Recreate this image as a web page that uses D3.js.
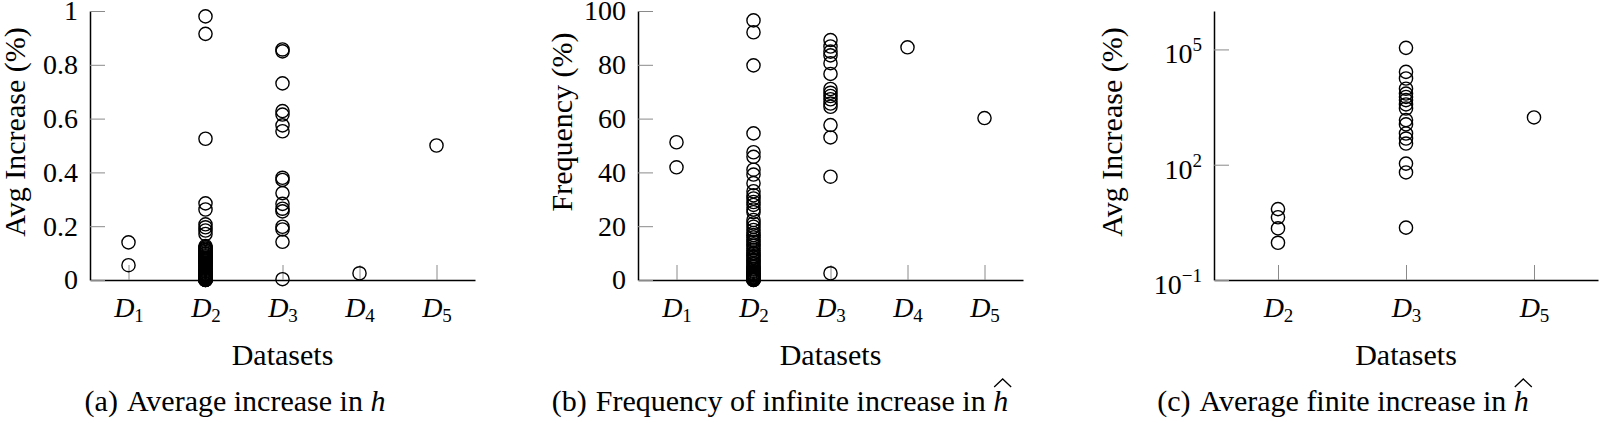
<!DOCTYPE html>
<html>
<head>
<meta charset="utf-8">
<script src="https://cdnjs.cloudflare.com/ajax/libs/d3/7.8.5/d3.min.js"></script>
<style>
  body { margin: 0; background: #fff; }
  svg text { font-family: "Liberation Serif", "DejaVu Serif", serif; fill: #000; }
</style>
</head>
<body>
<svg id="fig" width="1602" height="423" font-family="Liberation Serif, DejaVu Serif, serif"></svg>
<script>
// categories
const catsAB = ['D1', 'D2', 'D3', 'D4', 'D5'];
const catsC = ['D2', 'D3', 'D5'];

// (a) average increase in h (%)
const aD1 = [0.14, 0.055];
const aD2 = [0.98, 0.915, 0.525, 0.285, 0.262, 0.207, 0.196, 0.184, 0.171, 0.126, 0.121,
  0.117, 0.112, 0.109, 0.104, 0.099, 0.097, 0.092, 0.088, 0.083, 0.081, 0.077, 0.072,
  0.069, 0.064, 0.061, 0.057, 0.052, 0.049, 0.045, 0.041, 0.037, 0.033, 0.03, 0.027,
  0.024, 0.021, 0.019, 0.016, 0.014, 0.012, 0.01, 0.008, 0.007, 0.006, 0.005, 0.004,
  0.003, 0.002, 0.0015, 0.001, 0.0005, 0.0002, 0];
const aD3 = [0.857, 0.85, 0.731, 0.628, 0.615, 0.575, 0.553, 0.38, 0.372, 0.323, 0.283,
  0.265, 0.255, 0.198, 0.188, 0.142, 0.003];
const aD4 = [0.025];
const aD5 = [0.5];

// (b) frequency of infinite increase (%)
const bD1 = [51.2, 41.9];
const bD2 = [96.5, 92.1, 79.8, 54.5, 47.5, 45.8, 41.0, 39.2, 36.0, 33.0, 31.5, 30.3, 29.0,
  27.9, 26.2, 25.2, 22.3, 21.0, 19.8, 18.6, 17.5, 16.7, 15.8, 14.9, 14.2, 13.3, 12.7, 11.8,
  11.1, 10.2, 9.7, 8.9, 8.3, 7.5, 7.1, 6.4, 5.9, 5.2, 4.8, 4.2, 3.9, 3.4, 3.0, 2.6, 2.3,
  1.9, 1.6, 1.3, 1.0, 0.8, 0.6, 0.4, 0.3, 0.2, 0.1, 0.05, 0];
const bD3 = [89.2, 86.8, 84.9, 83.5, 80.6, 76.6, 71.0, 69.6, 68.4, 67.2, 65.6, 64.4, 57.6,
  53.0, 38.4, 2.5];
const bD4 = [86.5];
const bD5 = [60.2];

// (c) average finite increase (%), log scale
const cD2 = [7.0, 4.3, 2.2, 0.93];
const cD3 = [110000, 26000, 17500, 9500, 7100, 5800, 4800, 3700, 2900, 1450, 1120, 650,
  480, 355, 107, 63, 2.3];
const cD5 = [1700];

// tick values
const ticksA = [0, 0.2, 0.4, 0.6, 0.8, 1];
const ticksB = [0, 20, 40, 60, 80, 100];
const ticksC = [0.1, 100, 100000];

const svg = d3.select('#fig');
const plotTop = 11, plotBottom = 280;
const serif = 'Liberation Serif, DejaVu Serif, serif';

function panel(cfg) {
  const g = svg.append('g');
  const x = d3.scalePoint().domain(cfg.cats).range([cfg.x0, cfg.x1]).padding(0.5);
  const y = cfg.y;

  // x axis
  const xa = g.append('g')
    .attr('transform', `translate(0,${plotBottom})`)
    .call(d3.axisBottom(x).tickSize(-15).tickSizeOuter(0).tickPadding(17));
  xa.attr('font-size', 28).attr('font-family', serif);
  xa.selectAll('.tick text').text(null).each(function(d) {
    const t = d3.select(this);
    t.append('tspan').attr('font-style', 'italic').text(d[0]);
    t.append('tspan').attr('font-size', 19).attr('dy', 5).text(d.slice(1));
  });

  // y axis
  const ya = g.append('g')
    .attr('transform', `translate(${cfg.x0},0)`)
    .call(d3.axisLeft(y).tickValues(cfg.ticks).tickSize(-15).tickSizeOuter(0).tickPadding(12)
      .tickFormat(d3.format('~g')));
  ya.attr('font-size', 28).attr('font-family', serif);
  if (cfg.log) {
    ya.selectAll('.tick text').text(null).attr('dy', '0.48em').each(function(d) {
      const t = d3.select(this);
      t.append('tspan').text('10');
      t.append('tspan').attr('font-size', 19).attr('dy', -12)
        .text(Math.round(Math.log10(d)).toString().replace('-', '\u2212'));
    });
  }

  [xa, ya].forEach(a => {
    a.select('.domain').attr('stroke', '#000').attr('stroke-width', 1.5);
    a.selectAll('.tick line').attr('stroke', '#8a8a8a').attr('stroke-width', 1);
  });

  // points
  const pts = [];
  cfg.series.forEach((vals, i) => vals.forEach(v => pts.push({ cat: cfg.cats[i], v })));
  g.selectAll('circle.pt').data(pts).join('circle')
    .attr('class', 'pt')
    .attr('cx', d => x(d.cat))
    .attr('cy', d => y(d.v))
    .attr('r', 6.6)
    .attr('fill', 'none')
    .attr('stroke', '#000')
    .attr('stroke-width', 1.4);

  // labels
  g.append('text')
    .attr('transform', `translate(${cfg.ylx},${cfg.yly}) rotate(-90)`)
    .attr('text-anchor', 'middle')
    .attr('font-size', 30)
    .text(cfg.ylabel);

  g.append('text')
    .attr('x', (cfg.x0 + cfg.x1) / 2)
    .attr('y', 365)
    .attr('text-anchor', 'middle')
    .attr('font-size', 30)
    .text('Datasets');

  const cap = g.append('text')
    .attr('x', cfg.capx)
    .attr('y', 411)
    .attr('text-anchor', 'middle')
    .attr('font-size', 30);
  cap.append('tspan').text(cfg.tag);
  cap.append('tspan').attr('dx', 9).text(cfg.caption);
  cap.append('tspan').attr('font-style', 'italic').text('h');

  if (cfg.hat) {
    const node = cap.node();
    const e = node.getExtentOfChar(node.getNumberOfChars() - 1);
    const x0 = e.x + 1, x1 = e.x + e.width + 3, base = 411 - 24;
    g.append('path')
      .attr('d', `M${x0},${base} L${(x0 + x1) / 2},${base - 8} L${x1},${base}`)
      .attr('fill', 'none')
      .attr('stroke', '#000')
      .attr('stroke-width', 1.3);
  }
}

panel({
  cats: catsAB, series: [aD1, aD2, aD3, aD4, aD5],
  x0: 90, x1: 475,
  y: d3.scaleLinear().domain([0, 1]).range([plotBottom, plotTop]),
  ticks: ticksA,
  ylabel: 'Avg Increase (%)', ylx: 25, yly: 132,
  tag: '(a)', caption: 'Average increase in ', capx: 235, hat: false
});

panel({
  cats: catsAB, series: [bD1, bD2, bD3, bD4, bD5],
  x0: 638, x1: 1023,
  y: d3.scaleLinear().domain([0, 100]).range([plotBottom, plotTop]),
  ticks: ticksB,
  ylabel: 'Frequency (%)', ylx: 572, yly: 122,
  tag: '(b)', caption: 'Frequency of infinite increase in ', capx: 780, hat: true
});

panel({
  cats: catsC, series: [cD2, cD3, cD5],
  x0: 1214, x1: 1598,
  y: d3.scaleLog().domain([0.1, 1e6]).range([plotBottom, plotTop]),
  ticks: ticksC, log: true,
  ylabel: 'Avg Increase (%)', ylx: 1122, yly: 132,
  tag: '(c)', caption: 'Average finite increase in ', capx: 1343, hat: true
});
</script>
</body>
</html>
